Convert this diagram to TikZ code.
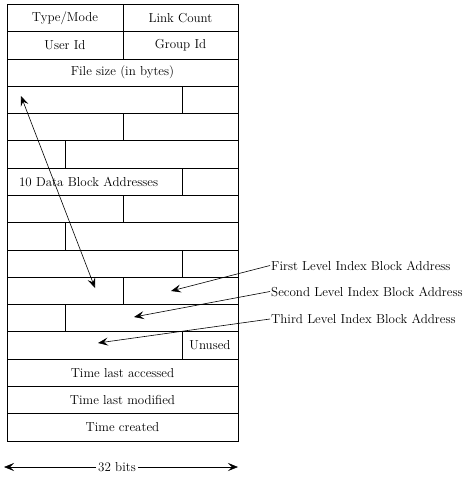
\documentclass[tikz,border=0pt]{standalone}
\usepackage{tikz}
\usetikzlibrary{arrows.meta, positioning}

\begin{document}
\begin{tikzpicture}[
    x = 1pt, y = -1pt,
    cell/.style = {
      rectangle, draw = black, line width = 0.9pt,
      anchor = north west, inner sep = 0pt, outer sep = 0pt,
      minimum height = 27.3pt, font = \fontsize{13}{15}\selectfont
    },
    full/.style  = {cell, minimum width = 231pt},
    half/.style  = {cell, minimum width = 116pt},
    halfr/.style = {cell, minimum width = 115pt},
    wide/.style  = {cell, minimum width = 175pt},
    nar/.style   = {cell, minimum width = 56pt},
    tiny/.style  = {cell, minimum width = 58pt},
    big/.style   = {cell, minimum width = 173pt},
    tip/.style   = {Stealth[length=10pt, width=8pt, inset=4pt]},
    arr/.style   = {-{Stealth[length=10pt, width=8pt, inset=4pt]}, semithick},
    both/.style  = {{Stealth[length=10pt, width=8pt, inset=4pt]}-{Stealth[length=10pt, width=8pt, inset=4pt]}, semithick},
    lbl/.style   = {font = \fontsize{13}{15}\selectfont, inner sep = 1pt, anchor = west}
  ]
    \useasboundingbox (0,0) rectangle (474,484);

    % ── Inode rows ───────────────────────────────────────────────────────────
    \node[half]  (type)   at (7,4.5)     {Type/Mode};
    \node[halfr] (links)  at (123,4.5)   {Link Count};
    \node[half]  (user)   at (7,31.8)    {User Id};
    \node[halfr] (group)  at (123,31.8)  {Group Id};
    \node[full]  (size)   at (7,59.1)    {File size (in bytes)};
    \node[wide]  (blk1a)  at (7,86.3)    {};
    \node[nar]   (blk1b)  at (182,86.3)  {};
    \node[half]  (blk2a)  at (7,113.6)   {};
    \node[halfr] (blk2b)  at (123,113.6) {};
    \node[tiny]  (blk3a)  at (7,140.9)   {};
    \node[big]   (blk3b)  at (65,140.9)  {};
    \node[cell, text width = 151pt, inner xsep = 12pt, align = left]
                 (blk4a)  at (7,168.2)   {10 Data Block Addresses};
    \node[nar]   (blk4b)  at (182,168.2) {};
    \node[half]  (blk5a)  at (7,195.5)   {};
    \node[halfr] (blk5b)  at (123,195.5) {};
    \node[tiny]  (blk6a)  at (7,222.7)   {};
    \node[big]   (blk6b)  at (65,222.7)  {};
    \node[wide]  (blk7a)  at (7,250.0)   {};
    \node[nar]   (blk7b)  at (182,250.0) {};
    \node[half]  (blk8a)  at (7,277.3)   {};
    \node[halfr] (single) at (123,277.3) {};
    \node[tiny]  (blk9a)  at (7,304.6)   {};
    \node[big]   (double) at (65,304.6)  {};
    \node[wide]  (triple) at (7,331.9)   {};
    \node[nar]   (unused) at (182,331.9) {Unused};
    \node[full]  (atime)  at (7,359.1)   {Time last accessed};
    \node[full]  (mtime)  at (7,386.4)   {Time last modified};
    \node[full]  (ctime)  at (7,413.7)   {Time created};

    % ── Labels ───────────────────────────────────────────────────────────────
    \node[lbl] (first)  at (270,265.5) {First Level Index Block Address};
    \node[lbl] (second) at (270,291.5) {Second Level Index Block Address};
    \node[lbl] (third)  at (270,319.0) {Third Level Index Block Address};
    \node[lbl, anchor = center, fill = white, inner xsep = 2pt]
               (bits)   at (117,467)   {32 bits};

    % ── Arrow ends ───────────────────────────────────────────────────────────
    \coordinate (dtop)  at (21,96);
    \coordinate (dbot)  at (95,288);
    \coordinate (tip1)  at (171,291);
    \coordinate (tip2)  at (134,317);
    \coordinate (tip3)  at (98,343);
    \coordinate (wleft) at (4,467);
    \coordinate (wright) at (238,467);

    % ── Arrows ───────────────────────────────────────────────────────────────
    \draw[both] (dtop) -- (dbot);
    \draw[arr] (first.west)  -- (tip1);
    \draw[arr] (second.west) -- (tip2);
    \draw[arr] (third.west)  -- (tip3);
    \draw[arr] (bits.west)   -- (wleft);
    \draw[arr] (bits.east)   -- (wright);
  \end{tikzpicture}
\end{document}
